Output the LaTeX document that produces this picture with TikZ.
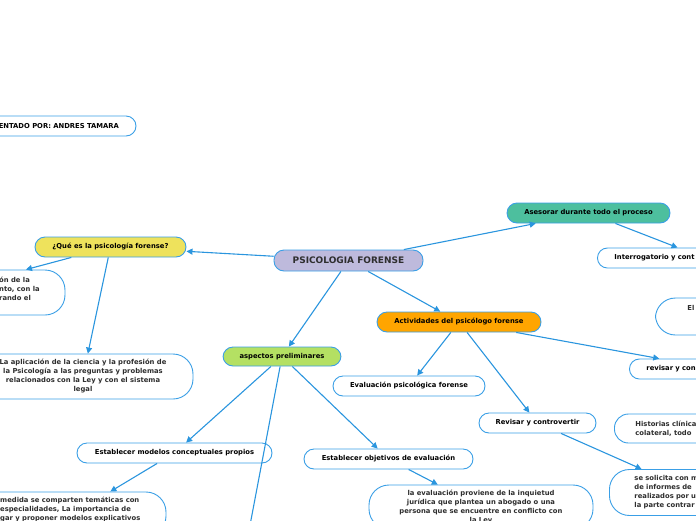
\documentclass[tikz,border=0pt]{standalone}
\usepackage{fontspec}
\setmainfont{DejaVu Sans}
\usetikzlibrary{arrows.meta}

\definecolor{mapblue}{HTML}{3A9FE6}
\definecolor{linkblue}{HTML}{2A95DE}
\definecolor{lavanda}{HTML}{BEBADC}
\definecolor{amarillo}{HTML}{EEE25C}
\definecolor{verde}{HTML}{B4E063}
\definecolor{naranja}{HTML}{FFA500}
\definecolor{turquesa}{HTML}{4DBF9E}
\definecolor{tinta}{HTML}{2E2E2E}

\tikzset{
  bubble/.style={draw=mapblue, line width=0.9pt, fill=white, rounded corners=10pt,
    minimum height=20pt, inner sep=0pt, font=\fontsize{6.8}{9}\selectfont\bfseries},
  bigbubble/.style={bubble, rounded corners=20pt, text=tinta},
  note/.style={inner sep=0pt, align=left, text=tinta, font=\fontsize{6.8}{9}\selectfont\bfseries},
  link/.style={draw=linkblue, line width=1.1pt, -{Triangle[length=6pt,width=6pt]}},
}

\begin{document}
\begin{tikzpicture}[x=1pt,y=-1pt]
\useasboundingbox (0,0) rectangle (696,520);
\clip (0,0) rectangle (696,520);

% centro y ramas principales
\node[bubble, fill=lavanda, minimum width=149, minimum height=21, text=tinta,
  font=\fontsize{9}{11}\selectfont\bfseries] (psico) at (348.5,260.5) {PSICOLOGIA FORENSE};
\node[bubble, minimum width=174] (autor) at (49,126) {PRESENTADO POR: ANDRES TAMARA};
\node[bubble, fill=amarillo, minimum width=151] (que) at (110.5,247) {¿Qué es la psicología forense?};
\node[bubble, fill=verde, minimum width=118, minimum height=19] (aspectos) at (282,356.5) {aspectos preliminares};
\node[bubble, fill=naranja, minimum width=164] (activ) at (459,322) {Actividades del psicólogo forense};
\node[bubble, fill=turquesa, minimum width=163] (asesor) at (588.5,213) {Asesorar durante todo el proceso};

% que es
\node[bigbubble, minimum width=250, minimum height=45] (defin) at (-60,292.5) {};
\node[note, anchor=west] (defintxt) at (-1,289) {ón de la\\nto, con la\\rando el};
\node[bigbubble, minimum width=220, minimum height=45, align=center] (ciencia) at (83,376.5)
  {La aplicación de la ciencia y la profesión de\\la Psicología a las preguntas y problemas\\relacionados con la Ley y con el sistema\\legal};

% aspectos preliminares
\node[bubble, minimum width=195] (modelos) at (174.5,453) {Establecer modelos conceptuales propios};
\node[bigbubble, minimum width=186, minimum height=44] (medida) at (73,514) {};
\node[note, anchor=west] (medidatxt) at (0,510)
  {medida se comparten temáticas con\\ especialidades, La importancia de\\gar y proponer modelos explicativos};
\node[bubble, minimum width=169] (objetivos) at (388.5,459) {Establecer objetivos de evaluación};
\node[bigbubble, minimum width=224, minimum height=44, align=center] (inquietud) at (481,507)
  {la evaluación proviene de la inquietud\\jurídica que plantea un abogado o una\\persona que se encuentre en conflicto con\\la Ley};
\coordinate (abajo) at (243.4,560);

% actividades
\node[bubble, minimum width=152] (evalua) at (409,386) {Evaluación psicológica forense};
\node[bubble, minimum width=117] (revisar) at (537.5,423) {Revisar y controvertir};
\node[bubble, anchor=west, inner xsep=17pt, text width=140pt, align=left] (revcon) at (629,369) {revisar y con};
\node[bigbubble, anchor=west, inner xsep=32pt, text width=60pt, minimum height=37] (el) at (655,316.5) {El\\\mbox{}\\\mbox{}};
\node[bigbubble, anchor=west, inner xsep=21pt, text width=120pt, minimum height=29, align=left, rounded corners=14pt] (historias) at (614,428.5)
  {Historias clínica\\colateral, todo};
\node[bigbubble, anchor=west, inner xsep=25pt, text width=120pt, minimum height=46, align=left] (solicita) at (609,492.5)
  {se solicita con m\\de informes de\\realizados por u\\la parte contrar};

% asesorar
\node[bubble, anchor=west, inner xsep=17pt, text width=180pt, align=left] (interrog) at (597,258) {Interrogatorio y cont};

% conectores
\draw[link] (psico) -- (que);
\draw[link] (psico) -- (aspectos);
\draw[link] (psico) -- (activ);
\draw[link] (psico) -- (asesor);
\draw[link] (que) -- (defin);
\draw[link] (que) -- (ciencia);
\draw[link] (aspectos) -- (modelos);
\draw[link] (aspectos) -- (abajo);
\draw[link] (aspectos) -- (objetivos);
\draw[link] (modelos) -- (medida);
\draw[link] (objetivos) -- (inquietud);
\draw[link] (activ) -- (evalua);
\draw[link] (activ) -- (revisar);
\draw[link] (activ) -- (revcon);
\draw[link] (revisar) -- (solicita);
\draw[link] (asesor) -- (interrog);
\end{tikzpicture}
\end{document}
